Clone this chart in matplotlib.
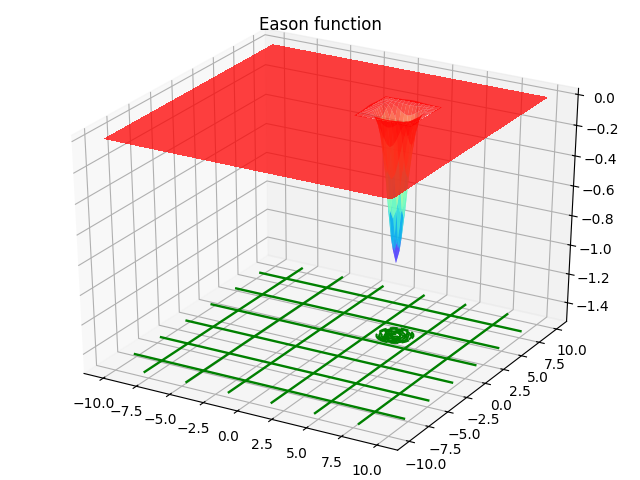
import numpy as np
import matplotlib
matplotlib.use("Agg")
import matplotlib.pyplot as plt
from mpl_toolkits.mplot3d.art3d import Poly3DCollection

# nodi della griglia attorno al pozzo
x_knots = [1.14, 1.64, 1.89, 2.14, 2.39, 2.64, 2.89, 3.14,
           3.39, 3.64, 3.89, 4.14, 4.39, 4.64, 5.14]
y_knots = [1.14, 1.64, 1.89, 2.14, 2.39, 2.64, 2.89, 3.14,
           3.39, 3.64, 3.89, 4.14, 4.39, 4.64, 5.14]

# quote, solo la parte centrale
z_core = [
    [0, 0, .001, .002, .003, .005, .007, .008, .007, .005, .003, .002, .001, 0, 0],
    [0, 0, 0, -.001, -.003, -.005, -.007, -.008, -.007, -.005, -.003, -.001, 0, 0, 0],
    [.001, 0, -.004, -.013, -.028, -.045, -.060, -.066, -.060, -.045, -.028, -.013, -.004, 0, .001],
    [.002, -.001, -.013, -.040, -.083, -.136, -.181, -.199, -.181, -.136, -.083, -.040, -.013, -.001, .002],
    [.003, -.003, -.028, -.083, -.174, -.285, -.379, -.417, -.379, -.285, -.174, -.083, -.028, -.003, .003],
    [.005, -.005, -.045, -.136, -.285, -.466, -.622, -.683, -.622, -.466, -.285, -.136, -.045, -.005, .005],
    [.007, -.007, -.060, -.181, -.379, -.622, -.828, -.910, -.828, -.622, -.379, -.181, -.060, -.007, .007],
    [.008, -.008, -.066, -.199, -.417, -.683, -.910, -1.0, -.910, -.683, -.417, -.199, -.066, -.008, .008],
    [.007, -.007, -.060, -.181, -.379, -.622, -.828, -.910, -.828, -.622, -.379, -.181, -.060, -.007, .007],
    [.005, -.005, -.045, -.136, -.285, -.466, -.622, -.683, -.622, -.466, -.285, -.136, -.045, -.005, .005],
    [.003, -.003, -.028, -.083, -.174, -.285, -.379, -.417, -.379, -.285, -.174, -.083, -.028, -.003, .003],
    [.002, -.001, -.013, -.040, -.083, -.136, -.181, -.199, -.181, -.136, -.083, -.040, -.013, -.001, .002],
    [.001, 0, -.004, -.013, -.028, -.045, -.060, -.066, -.060, -.045, -.028, -.013, -.004, 0, .001],
    [0, 0, 0, -.001, -.003, -.005, -.007, -.008, -.007, -.005, -.003, -.001, 0, 0, 0],
    [0, 0, .001, .002, .003, .005, .007, .008, .007, .005, .003, .002, .001, 0, 0],
]

# piano piatto a z = 0 con il buco per il pozzo
plane_x = [-10, 10, 10, -10, -10, 1.14, 1.14, 5.14, 5.14, 1.14]
plane_y = [-10, -10, 10, 10, -10, 1.14, 5.14, 5.14, 1.14, 1.14]
plane_z = [0, 0, 0, 0, 0, 0, 0, 0, 0, 0]

# linee verdi sul fondo e anelli attorno al pozzo
line_pos = [-7.85, -4.71, -1.57, 1.57, 4.71, 7.85]
line_span = [-9.9, 9.9]
ring_levels = [-.9, -.8, -.7, -.6, -.5, -.4, -.3, -.2, -.15, -.1]
floor_z = -1.5

X, Y = np.meshgrid(x_knots, y_knots)
Z = np.array(z_core)

fig = plt.figure(figsize=(6.4, 4.8))
ax = fig.add_axes([-0.0225, -0.021, 1.045, 1.046], projection="3d", computed_zorder=False)
# il vecchio matplotlib stirava il cubo su tutto l'asse
ax.apply_aspect = lambda position=None: None
ax.set_box_aspect((1, 1, 1), zoom=0.91)

ax.contour(X, Y, Z, levels=ring_levels, offset=floor_z, colors="green", linewidths=1.5)
for p in line_pos:
    ax.plot([p, p], line_span, [floor_z, floor_z], color="green", lw=1.7)
    ax.plot(line_span, [p, p], [floor_z, floor_z], color="green", lw=1.7)

ax.plot_surface(X, Y, Z, rstride=1, cstride=1, cmap="rainbow", alpha=0.75,
                vmin=-1, vmax=0, linewidth=0)

# il piano va disegnato dopo: copre il pozzo in trasparenza
plane = Poly3DCollection([list(zip(plane_x, plane_y, plane_z))], facecolor=(1, 0, 0, 0.75),
                         edgecolor="none", antialiased=False)
ax.add_collection3d(plane)

ax.set_title("Eason function", y=0.977)
plt.savefig("out.png", dpi=100)
